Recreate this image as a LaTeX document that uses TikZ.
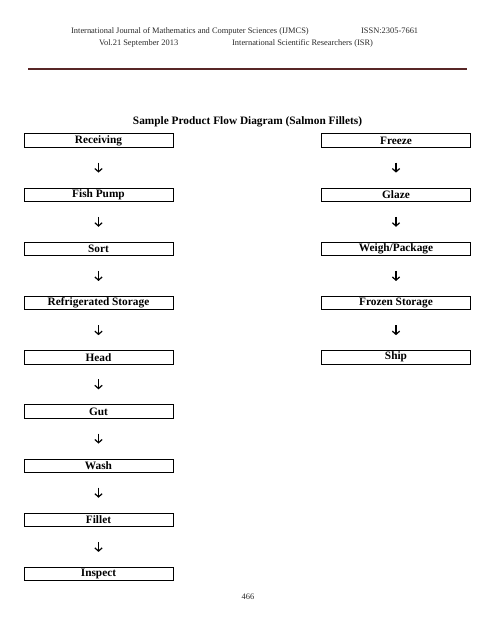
\documentclass[tikz,border=0pt]{standalone}
\usepackage{fontspec}
\setmainfont{Liberation Serif}
\usetikzlibrary{positioning,arrows.meta}
\tikzset{
        stepbox/.style={
            rectangle, draw=black, line width=0.9pt,
            minimum width=184pt, minimum height=16.7pt,
            inner sep=0pt, text centered,
            font=\fontsize{14}{16}\selectfont\bfseries
        },
        line/.style={
            draw, line width=1.5pt,
            -{Straight Barb[length=4pt,width=9pt]},
            shorten <=18.5pt, shorten >=18.5pt
        },
        header/.style={
            font=\fontsize{10.4}{12}\selectfont,
            text=headgray, inner sep=0pt
        }
    }
\definecolor{rulebrown}{RGB}{88,38,38}
\definecolor{headgray}{RGB}{40,40,40}

\begin{document}
\begin{tikzpicture}[
    x=1.2364pt, y=-1.2364pt,
    node distance = 49.4pt,
    every node/.style = {align=center},
  ]
    \useasboundingbox (0,0) rectangle (495,640);

    % page header
    \node[header, anchor=base west] (journal) at (71,34) {International Journal of Mathematics and Computer Sciences (IJMCS)};
    \node[header, anchor=base west] (issn) at (361,34) {ISSN:2305-7661};
    \node[header, anchor=base west] (vol) at (99,46) {Vol.21 September 2013};
    \node[header, anchor=base west] (isr) at (232,46) {International Scientific Researchers (ISR)};
    \draw[rulebrown, line width=3.5pt] (28,69) -- (467,69);

    \node[font=\fontsize{14}{16}\selectfont\bfseries] (title) at (247.5,122) {Sample Product Flow Diagram (Salmon Fillets)};

    % left column
    \node[stepbox] (rcv) at (98.5,140.5) {Receiving};
    \node[stepbox, below=of rcv] (pump) {Fish Pump};
    \node[stepbox, below=of pump] (sort) {Sort};
    \node[stepbox, below=of sort] (cold) {Refrigerated Storage};
    \node[stepbox, below=of cold] (head) {Head};
    \node[stepbox, below=of head] (gut) {Gut};
    \node[stepbox, below=of gut] (wash) {Wash};
    \node[stepbox, below=of wash] (fillet) {Fillet};
    \node[stepbox, below=of fillet] (insp) {Inspect};

    % right column
    \node[stepbox] (frz) at (396,140.5) {Freeze};
    \node[stepbox, below=of frz] (glaze) {Glaze};
    \node[stepbox, below=of glaze] (pack) {Weigh/Package};
    \node[stepbox, below=of pack] (frozen) {Frozen Storage};
    \node[stepbox, below=of frozen] (ship) {Ship};

    \path[line]
    (rcv) edge (pump)
    (pump) edge (sort)
    (sort) edge (cold)
    (cold) edge (head)
    (head) edge (gut)
    (gut) edge (wash)
    (wash) edge (fillet)
    (fillet) edge (insp)
    (frz) edge (glaze)
    (glaze) edge (pack)
    (pack) edge (frozen)
    (frozen) edge (ship);

    \node[header] (pageno) at (248,597) {466};

\end{tikzpicture}
\end{document}
